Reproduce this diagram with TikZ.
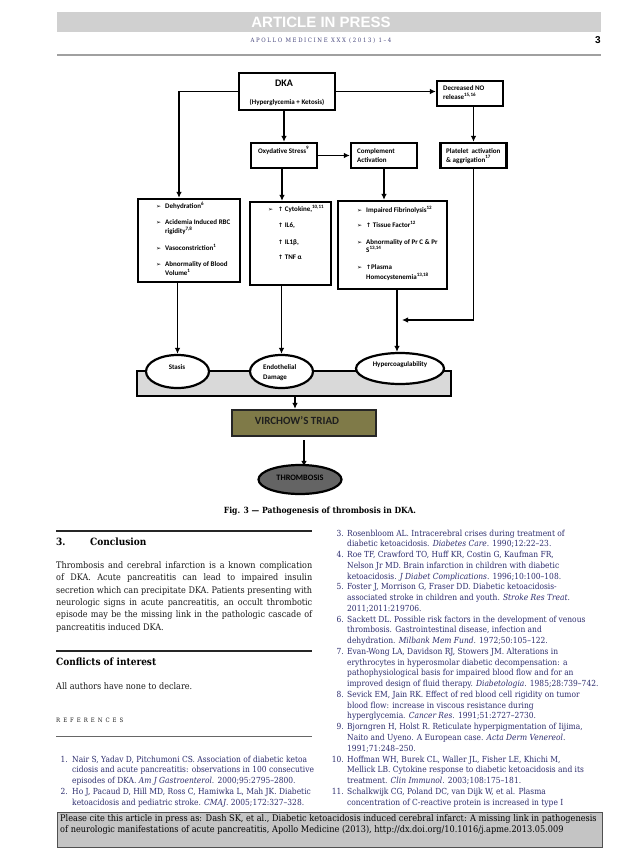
\documentclass[tikz,border=0pt]{standalone}
\usepackage{fontspec}
\setmainfont{DejaVu Serif Condensed}
\newfontfamily\diagfont{Carlito}
\newfontfamily\symfont{DejaVu Sans}
\newfontfamily\hdrfont{Liberation Sans}
\usetikzlibrary{arrows.meta,shapes.geometric}
\definecolor{refblue}{RGB}{45,45,110}
\definecolor{hdrblue}{RGB}{70,70,125}
\definecolor{hdrgray}{RGB}{208,208,208}
\definecolor{rulegray}{RGB}{160,160,160}
\definecolor{bodygray}{RGB}{25,25,25}
\definecolor{trigray}{RGB}{217,217,217}
\definecolor{olive}{RGB}{127,122,72}
\definecolor{thrgray}{RGB}{100,100,100}
\definecolor{citefill}{RGB}{196,196,196}
\definecolor{citeborder}{RGB}{80,80,80}
\newcommand\TL[1]{\begin{tabular}[t]{@{}l@{}}#1\end{tabular}}
\newcommand\TB[1]{\begin{tabular}[t]{@{}l@{}l@{}}#1\end{tabular}}
\newcommand\bulx{\makebox[9pt][l]{{\symfont\fontsize{6}{6}\selectfont ➢}}}
\newcommand\bulw{\makebox[10pt][l]{{\symfont\fontsize{6}{6}\selectfont ➢}}}
\newcommand\uparr{{\symfont\bfseries\fontsize{6}{5}\selectfont ↑}}
\begin{document}
\begin{tikzpicture}[x=1pt,y=-1pt,
  bx/.style={draw=black, line width=2.2pt, fill=white, inner sep=0pt},
  el/.style={ellipse, draw=black, line width=2.2pt, fill=white, inner sep=0pt},
  arr/.style={-{Latex[length=6pt,width=5.5pt]}, line width=1.9pt},
  dt/.style={font=\diagfont\bfseries\fontsize{7}{9}\selectfont, inner sep=0pt, anchor=base west},
  dc/.style={dt, anchor=base},
  body/.style={anchor=base west, inner sep=0pt, font=\fontsize{9}{10}\selectfont, text=bodygray},
  hd/.style={anchor=base west, inner sep=0pt, font=\bfseries\fontsize{10}{11}\selectfont, text=black},
  rf/.style={anchor=base west, inner sep=0pt, font=\fontsize{8.35}{9}\selectfont, text=refblue},
  rn/.style={anchor=base east, inner sep=0pt, font=\fontsize{8.35}{9}\selectfont, text=refblue},
  ct/.style={anchor=base west, inner sep=0pt, font=\fontsize{9.1}{9}\selectfont, text=black}]
\useasboundingbox (0,0) rectangle (638,851);
\fill[white] (0,0) rectangle (638,851);

% ---------- header ----------
\fill[hdrgray] (57,12) rectangle (601,32);
\node[font=\hdrfont\bfseries\fontsize{15}{15}\selectfont, text=white, anchor=base, inner sep=0pt] (aip) at (321,27.5) {ARTICLE IN PRESS};
\node[font=\fontsize{6}{6}\selectfont\addfontfeatures{LetterSpace=27}, text=hdrblue, anchor=base, inner sep=0pt] (jrn) at (321,42.5) {APOLLO MEDICINE XXX (2013) 1–4};
\node[font=\hdrfont\bfseries\fontsize{10}{10}\selectfont, anchor=base east, inner sep=0pt] (pg) at (601,44) {3};
\draw[line width=1.2pt, rulegray] (57,55) -- (601,55);

% ---------- diagram boxes ----------
\node[bx, minimum width=96pt, minimum height=37pt] (dka) at (287,91.5) {};
\node[dc, font=\diagfont\bfseries\fontsize{10}{10}\selectfont] (dkat) at (284,86.5) {DKA};
\node[dc] (dkas) at (287,104) {(Hyperglycemia + Ketosis)};

\node[bx, minimum width=66pt, minimum height=25pt] (no) at (470,93.5) {};
\node[dt] (not) at (443,90.5) {\TL{Decreased NO\\release\textsuperscript{15,16}}};

\node[bx, minimum width=66pt, minimum height=25pt] (oxy) at (284,155.5) {};
\node[dt] (oxyt) at (258,153) {Oxydative Stress\textsuperscript{9}};

\node[bx, minimum width=66pt, minimum height=25pt] (comp) at (384,155.5) {};
\node[dt] (compt) at (357,153) {\TL{Complement\\Activation}};

\node[bx, minimum width=66pt, minimum height=25pt] (plat) at (473.5,155.5) {};
\node[dt] (platt) at (446,153) {\TL{Platelet\ \ activation\\\& aggrigation\textsuperscript{17}}};

\node[bx, minimum width=102pt, minimum height=83pt] (b1) at (189,240.5) {};
\node[dt] (b1t) at (156,208.5) {\TB{\bulx & Dehydration\textsuperscript{6}\\[7pt]
  \bulx & Acidemia Induced RBC\\
        & rigidity\textsuperscript{7,8}\\[8pt]
  \bulx & Vasoconstriction\textsuperscript{1}\\[7pt]
  \bulx & Abnormality of Blood\\
        & Volume\textsuperscript{1}}};

\node[bx, minimum width=81pt, minimum height=83pt] (b2) at (290.5,243.5) {};
\node[dt] (b2t) at (268,211.5) {\TB{\bulw & \uparr\ Cytokine,\textsuperscript{10,11}\\[7pt]
        & \uparr\ IL6,\\[8pt]
        & \uparr\ IL1β,\\[6pt]
        & \uparr\ TNF α}};

\node[bx, minimum width=109pt, minimum height=88pt] (b3) at (392.5,245) {};
\node[dt] (b3t) at (357,212.5) {\TB{\bulx & Impaired Fibrinolysis\textsuperscript{12}\\[6pt]
  \bulx & \uparr\ Tissue Factor\textsuperscript{12}\\[8pt]
  \bulx & Abnormality of Pr C \& Pr\\[-1.3pt]
        & S\textsuperscript{13,14}\\[8pt]
  \bulx & \uparr Plasma\\[1pt]
        & Homocystenemia\textsuperscript{13,18}}};

% ---------- triad ----------
\node[draw=black, line width=2.2pt, fill=trigray, minimum width=314pt, minimum height=25pt, inner sep=0pt] (tri) at (294,383.5) {};
\node[el, minimum width=63pt, minimum height=33pt] (stasis) at (177.5,371.5) {};
\node[dc] (stasist) at (177,369) {Stasis};
\node[el, minimum width=63pt, minimum height=33pt] (endo) at (281.5,371.5) {};
\node[dt] (endot) at (263,369) {\TL{Endothelial\\[1pt]Damage}};
\node[el, minimum width=88pt, minimum height=31pt] (hyper) at (400,368.5) {};
\node[dc] (hypert) at (400,366) {Hypercoagulability};

\node[draw=black!85, line width=2.2pt, fill=olive, minimum width=144pt, minimum height=26pt, inner sep=0pt] (vir) at (304,423) {};
\node[dc, font=\diagfont\bfseries\fontsize{11}{11}\selectfont, text=black!88] (virt) at (297,424.5) {VIRCHOW’S TRIAD};

\node[ellipse, draw=black, line width=2.2pt, fill=thrgray, minimum width=83pt, minimum height=29pt, inner sep=0pt] (thr) at (300,479.5) {};
\node[dc, font=\diagfont\bfseries\fontsize{8.3}{9}\selectfont, text=black] (thrt) at (300,480.5) {THROMBOSIS};

% ---------- connectors ----------
\draw[arr] (oxy.north |- dka.south) -- (oxy.north);
\draw[arr] (dka.east) -- (dka.east -| no.west);
\draw[arr] (dka.west) -| ([xshift=-10pt]b1.north);
\draw[arr] (plat.north |- no.south) -- (plat.north);
\draw[arr] (oxy.east) -- (oxy.east -| comp.west);
\draw[arr] ([xshift=-2pt]oxy.south) -- ([xshift=-2pt]oxy.south |- b2.north);
\draw[arr] (comp.south) -- (comp.south |- b3.north);
\draw[arr] (stasis.north |- b1.south) -- (stasis.north);
\draw[arr] (endo.north |- b2.south) -- (endo.north);
\draw[arr] ([xshift=-3pt]hyper.north |- b3.south) -- ([xshift=-3pt]hyper.north);
\coordinate (pj) at (402,320);
\draw[arr] (plat.south) |- (pj);
\draw[arr] ([xshift=-9pt]vir.north |- tri.south) -- ([xshift=-9pt]vir.north);
\draw[arr] ([yshift=-3pt]vir.south) -- ([yshift=-3pt]vir.south |- thr.north);

% ---------- caption ----------
\node[anchor=base, inner sep=0pt, font=\bfseries\fontsize{8.5}{9}\selectfont] (cap) at (320,513) {Fig. 3 — Pathogenesis of thrombosis in DKA.};

% ---------- left column ----------
\draw[line width=2pt, black!85] (56,531) -- (312,531);
\node[hd] (s3n) at (56,545) {3.};
\node[hd] (s3) at (90,545) {Conclusion};
\node[body] (p1) at (56,568.5) {\makebox[256pt][s]{Thrombosis and cerebral infarction is a known complication}};
\node[body] (p2) at (56,580.8) {\makebox[256pt][s]{of DKA. Acute pancreatitis can lead to impaired insulin}};
\node[body] (p3) at (56,593.1) {\makebox[256pt][s]{secretion which can precipitate DKA. Patients presenting with}};
\node[body] (p4) at (56,605.4) {\makebox[256pt][s]{neurologic signs in acute pancreatitis, an occult thrombotic}};
\node[body] (p5) at (56,617.7) {\makebox[256pt][s]{episode may be the missing link in the pathologic cascade of}};
\node[body] (p6) at (56,630.0) {pancreatitis induced DKA.};
\draw[line width=2pt, black!85] (56,651) -- (312,651);
\node[hd] (coi) at (56,665) {Conflicts of interest};
\node[body] (coit) at (56,689) {All authors have none to declare.};
\node[anchor=base west, inner sep=0pt, font=\fontsize{6}{7}\selectfont\addfontfeatures{LetterSpace=50}, text=bodygray] (refh) at (56,722) {REFERENCES};
\draw[line width=0.7pt, black!60] (56,736) -- (312,736);

\node[rn] (n1) at (68,762.0) {1.};
\node[rf] (r1a) at (72,762.0) {Nair S, Yadav D, Pitchumoni CS. Association of diabetic ketoa};
\node[rf] (r1b) at (72,772.7) {cidosis and acute pancreatitis: observations in 100 consecutive};
\node[rf] (r1c) at (72,783.5) {episodes of DKA. \textit{Am J Gastroenterol}. 2000;95:2795–2800.};
\node[rn] (n2) at (68,794.2) {2.};
\node[rf] (r2a) at (72,794.2) {Ho J, Pacaud D, Hill MD, Ross C, Hamiwka L, Mah JK. Diabetic};
\node[rf] (r2b) at (72,805.0) {ketoacidosis and pediatric stroke. \textit{CMAJ}. 2005;172:327–328.};

% ---------- right column ----------
\node[rn] (n3) at (344,536.0) {3.};
\node[rf] (r3a) at (347,536.0) {Rosenbloom AL. Intracerebral crises during treatment of};
\node[rf] (r3b) at (347,546.8) {diabetic ketoacidosis. \textit{Diabetes Care}. 1990;12:22–23.};
\node[rn] (n4) at (344,557.5) {4.};
\node[rf] (r4a) at (347,557.5) {Roe TF, Crawford TO, Huff KR, Costin G, Kaufman FR,};
\node[rf] (r4b) at (347,568.3) {Nelson Jr MD. Brain infarction in children with diabetic};
\node[rf] (r4c) at (347,579.0) {ketoacidosis. \textit{J Diabet Complications}. 1996;10:100–108.};
\node[rn] (n5) at (344,589.8) {5.};
\node[rf] (r5a) at (347,589.8) {Foster J, Morrison G, Fraser DD. Diabetic ketoacidosis-};
\node[rf] (r5b) at (347,600.6) {associated stroke in children and youth. \textit{Stroke Res Treat}.};
\node[rf] (r5c) at (347,611.3) {2011;2011:219706.};
\node[rn] (n6) at (344,622.1) {6.};
\node[rf] (r6a) at (347,622.1) {Sackett DL. Possible risk factors in the development of venous};
\node[rf] (r6b) at (347,632.8) {thrombosis. Gastrointestinal disease, infection and};
\node[rf] (r6c) at (347,643.6) {dehydration. \textit{Milbank Mem Fund}. 1972;50:105–122.};
\node[rn] (n7) at (344,654.4) {7.};
\node[rf] (r7a) at (347,654.4) {Evan-Wong LA, Davidson RJ, Stowers JM. Alterations in};
\node[rf] (r7b) at (347,665.1) {erythrocytes in hyperosmolar diabetic decompensation: a};
\node[rf] (r7c) at (347,675.9) {pathophysiological basis for impaired blood flow and for an};
\node[rf] (r7d) at (347,686.6) {improved design of fluid therapy. \textit{Diabetologia}. 1985;28:739–742.};
\node[rn] (n8) at (344,697.4) {8.};
\node[rf] (r8a) at (347,697.4) {Sevick EM, Jain RK. Effect of red blood cell rigidity on tumor};
\node[rf] (r8b) at (347,708.2) {blood flow: increase in viscous resistance during};
\node[rf] (r8c) at (347,718.9) {hyperglycemia. \textit{Cancer Res}. 1991;51:2727–2730.};
\node[rn] (n9) at (344,729.7) {9.};
\node[rf] (r9a) at (347,729.7) {Bjorngren H, Holst R. Reticulate hyperpigmentation of Iijima,};
\node[rf] (r9b) at (347,740.4) {Naito and Uyeno. A European case. \textit{Acta Derm Venereol}.};
\node[rf] (r9c) at (347,751.2) {1991;71:248–250.};
\node[rn] (n10) at (344,762.0) {10.};
\node[rf] (r10a) at (347,762.0) {Hoffman WH, Burek CL, Waller JL, Fisher LE, Khichi M,};
\node[rf] (r10b) at (347,772.7) {Mellick LB. Cytokine response to diabetic ketoacidosis and its};
\node[rf] (r10c) at (347,783.5) {treatment. \textit{Clin Immunol}. 2003;108:175–181.};
\node[rn] (n11) at (344,794.2) {11.};
\node[rf] (r11a) at (347,794.2) {Schalkwijk CG, Poland DC, van Dijk W, et al. Plasma};
\node[rf] (r11b) at (347,805.0) {concentration of C-reactive protein is increased in type I};

% ---------- cite box ----------
\node[draw=citeborder, fill=citefill, line width=1.2pt, minimum width=545pt, minimum height=35pt, anchor=north west, inner sep=0pt] (cite) at (57,812) {};
\node[ct] (c1) at (60,821.5) {Please cite this article in press as: Dash SK, et al., Diabetic ketoacidosis induced cerebral infarct: A missing link in pathogenesis};
\node[ct] (c2) at (60,832.5) {of neurologic manifestations of acute pancreatitis, Apollo Medicine (2013), http://dx.doi.org/10.1016/j.apme.2013.05.009};
\end{tikzpicture}
\end{document}
